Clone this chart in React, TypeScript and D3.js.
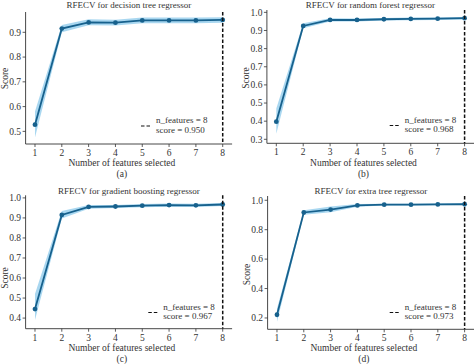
import React from "react";
import * as d3 from "d3";

const features = [1, 2, 3, 4, 5, 6, 7, 8];
const xTicks = [1, 2, 3, 4, 5, 6, 7, 8];

const titles = [
  "RFECV for decision tree regressor",
  "RFECV for random forest regressor",
  "RFECV for gradient boosting regressor",
  "RFECV for extra tree regressor",
];
const captions = ["(a)", "(b)", "(c)", "(d)"];

const scoreDT = [0.527, 0.915, 0.94, 0.939, 0.948, 0.948, 0.948, 0.95];
const lowDT = [0.475, 0.9, 0.928, 0.927, 0.937, 0.937, 0.937, 0.939];
const highDT = [0.58, 0.93, 0.953, 0.951, 0.96, 0.96, 0.96, 0.961];

const scoreRF = [0.397, 0.925, 0.958, 0.958, 0.962, 0.964, 0.965, 0.968];
const lowRF = [0.33, 0.912, 0.95, 0.95, 0.955, 0.957, 0.958, 0.961];
const highRF = [0.47, 0.94, 0.967, 0.966, 0.969, 0.971, 0.972, 0.975];

const scoreGB = [0.445, 0.915, 0.955, 0.957, 0.961, 0.964, 0.963, 0.967];
const lowGB = [0.39, 0.897, 0.946, 0.949, 0.953, 0.956, 0.955, 0.959];
const highGB = [0.52, 0.935, 0.964, 0.965, 0.969, 0.972, 0.971, 0.975];

const scoreET = [0.222, 0.917, 0.937, 0.965, 0.97, 0.97, 0.972, 0.973];
const lowET = [0.175, 0.902, 0.918, 0.956, 0.964, 0.964, 0.966, 0.967];
const highET = [0.262, 0.932, 0.958, 0.974, 0.976, 0.976, 0.978, 0.979];

const bestScores = ["0.950", "0.968", "0.967", "0.973"];
const bestN = 8;

const yTicksDT = [0.5, 0.6, 0.7, 0.8, 0.9];
const yTicksRF = [0.3, 0.4, 0.5, 0.6, 0.7, 0.8, 0.9, 1.0];
const yTicksGB = [0.4, 0.5, 0.6, 0.7, 0.8, 0.9, 1.0];
const yTicksET = [0.2, 0.4, 0.6, 0.8, 1.0];

const LINE = "#17618d";
const BAND = "#6fbde6";
const FONT = '"Liberation Serif", "DejaVu Serif", serif';

interface PanelCfg {
  title: string;
  caption: string;
  score: number[];
  low: number[];
  high: number[];
  best: string;
  yTicks: number[];
  yDomain: [number, number];
  left: number;
  right: number;
  top: number;
  bottom: number;
  scoreY: number;
  titleY: number;
  xlabelY: number;
  capY: number;
  legX: number;
  legY: number;
}

const panels: PanelCfg[] = [
  {
    title: titles[0], caption: captions[0], score: scoreDT, low: lowDT, high: highDT,
    best: bestScores[0], yTicks: yTicksDT, yDomain: [0.449, 0.982],
    left: 25.6, right: 232.1, top: 12, bottom: 144, scoreY: 78.5, titleY: 8,
    xlabelY: 165.5, capY: 177, legX: 156, legY: 123,
  },
  {
    title: titles[1], caption: captions[1], score: scoreRF, low: lowRF, high: highRF,
    best: bestScores[1], yTicks: yTicksRF, yDomain: [0.278, 1.013],
    left: 266.9, right: 474, top: 10, bottom: 143.3, scoreY: 78, titleY: 8,
    xlabelY: 165.5, capY: 177, legX: 404.7, legY: 122.5,
  },
  {
    title: titles[2], caption: captions[2], score: scoreGB, low: lowGB, high: highGB,
    best: bestScores[2], yTicks: yTicksGB, yDomain: [0.347, 1.013],
    left: 25.6, right: 232.1, top: 195.3, bottom: 328.7, scoreY: 278, titleY: 193.5,
    xlabelY: 351, capY: 362, legX: 163.3, legY: 309.5,
  },
  {
    title: titles[3], caption: captions[3], score: scoreET, low: lowET, high: highET,
    best: bestScores[3], yTicks: yTicksET, yDomain: [0.123, 1.029],
    left: 267.6, right: 474, top: 196, bottom: 329.3, scoreY: 274.5, titleY: 193.5,
    xlabelY: 351, capY: 362, legX: 404.7, legY: 309.5,
  },
];

const txt: React.CSSProperties = { fontFamily: FONT };

const Panel: React.FC<{ p: PanelCfg }> = ({ p }) => {
  const x = d3.scaleLinear().domain([0.65, 8.35]).range([p.left, p.right]);
  const y = d3.scaleLinear().domain(p.yDomain).range([p.bottom, p.top]);
  const fmt = d3.format(".1f");

  const line = d3
    .line<number>()
    .x((_, i) => x(features[i]))
    .y((d) => y(d));
  const area = d3
    .area<number>()
    .x((_, i) => x(features[i]))
    .y0((_, i) => y(p.low[i]))
    .y1((d) => y(d));

  const cx = (p.left + p.right) / 2;
  const labelCx = cx - 7;

  return (
    <g>
      <text x={cx} y={p.titleY} textAnchor="middle" fontSize={9} fill="#333" style={txt}>
        {p.title}
      </text>
      <path d={area(p.high) || ""} fill={BAND} fillOpacity={0.6} stroke="none" />
      <path d={line(p.score) || ""} fill="none" stroke={LINE} strokeWidth={1.8} />
      {p.score.map((s, i) => (
        <circle key={i} cx={x(features[i])} cy={y(s)} r={2.4} fill={LINE} />
      ))}
      <line
        x1={x(bestN)}
        x2={x(bestN)}
        y1={p.top}
        y2={p.bottom}
        stroke="#111"
        strokeWidth={1.5}
        strokeDasharray="3.5,2"
      />
      {/* spines */}
      <line x1={p.left} x2={p.left} y1={p.top} y2={p.bottom} stroke="#333" strokeWidth={0.9} />
      <line x1={p.left} x2={p.right} y1={p.bottom} y2={p.bottom} stroke="#333" strokeWidth={0.9} />
      {p.yTicks.map((t) => (
        <g key={t}>
          <line x1={p.left - 3} x2={p.left} y1={y(t)} y2={y(t)} stroke="#333" strokeWidth={0.8} />
          <text x={p.left - 4.5} y={y(t) + 3.3} textAnchor="end" fontSize={9.5} fill="#333" style={txt}>
            {fmt(t)}
          </text>
        </g>
      ))}
      {xTicks.map((t) => (
        <g key={t}>
          <line x1={x(t)} x2={x(t)} y1={p.bottom} y2={p.bottom + 3} stroke="#333" strokeWidth={0.8} />
          <text x={x(t)} y={p.bottom + 12} textAnchor="middle" fontSize={9.5} fill="#333" style={txt}>
            {t}
          </text>
        </g>
      ))}
      <text
        transform={`translate(${p.left - 17.5},${p.scoreY}) rotate(-90)`}
        textAnchor="middle"
        fontSize={9.5}
        fill="#333"
        style={txt}
      >
        Score
      </text>
      <text x={labelCx} y={p.xlabelY} textAnchor="middle" fontSize={9.5} fill="#333" style={txt}>
        Number of features selected
      </text>
      <text x={labelCx} y={p.capY} textAnchor="middle" fontSize={9.5} fill="#333" style={txt}>
        {p.caption}
      </text>
      {/* legend */}
      <line
        x1={p.legX - 15}
        x2={p.legX - 5}
        y1={p.legY + 3}
        y2={p.legY + 3}
        stroke="#111"
        strokeWidth={1.2}
        strokeDasharray="3.5,2"
      />
      <text x={p.legX} y={p.legY} fontSize={9} fill="#333" style={txt}>
        n_features = {bestN}
      </text>
      <text x={p.legX} y={p.legY + 9.5} fontSize={9} fill="#333" style={txt}>
        score = {p.best}
      </text>
    </g>
  );
};

export default function App() {
  return (
    <svg
      width={474}
      height={364}
      viewBox="0 0 474 364"
      style={{ position: "absolute", left: 0, top: 0, background: "#fff" }}
    >
      <rect width={474} height={364} fill="#fff" />
      {panels.map((p, i) => (
        <Panel key={i} p={p} />
      ))}
    </svg>
  );
}
